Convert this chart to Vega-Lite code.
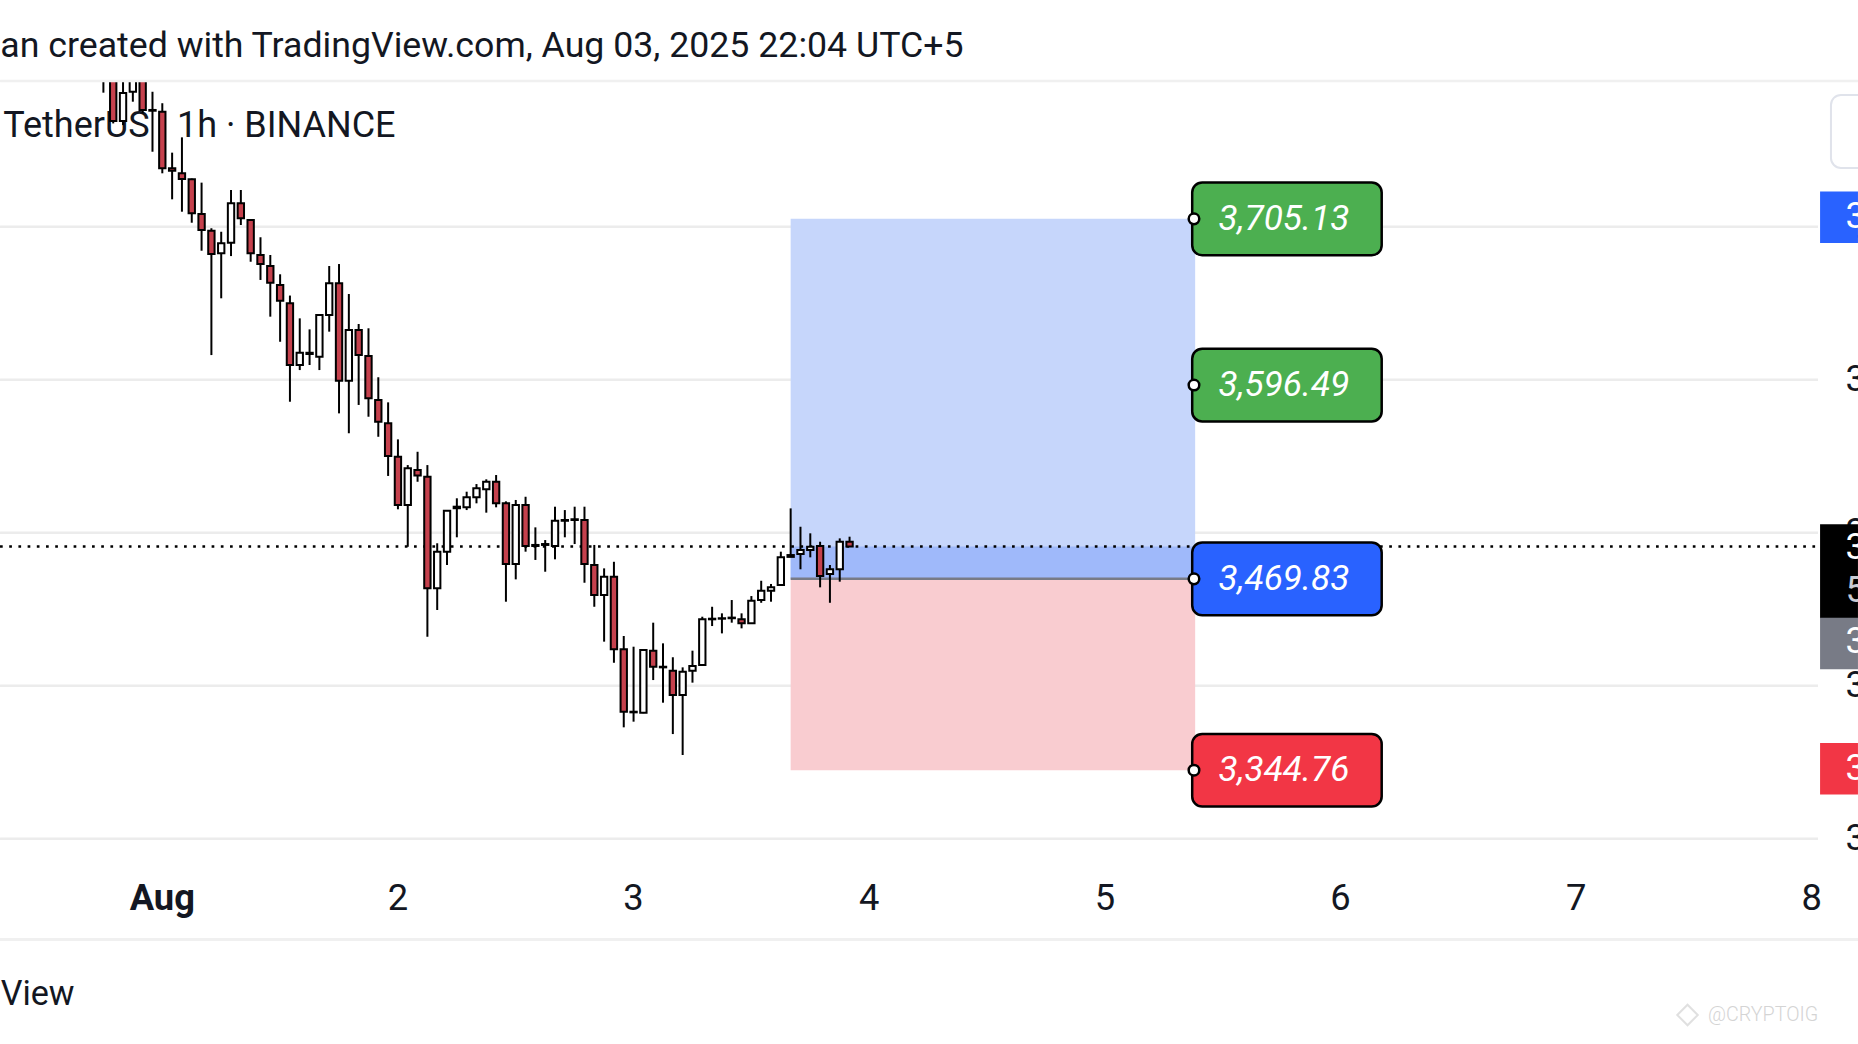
{
  "$schema": "https://vega.github.io/schema/vega-lite/v6.json",
  "width": 1858,
  "height": 1044,
  "padding": 0,
  "autosize": {"type": "none"},
  "background": "#ffffff",
  "config": {"view": {"stroke": null}, "font": "Roboto", "text": {"font": "Roboto"}},
  "datasets": {
    "candles": [
      {"h": -6, "open": 3799.0, "high": 3812.0, "low": 3787.6, "close": 3806.0},
      {"h": -5, "open": 3803.0, "high": 3808.0, "low": 3767.5, "close": 3769.1},
      {"h": -4, "open": 3769.1, "high": 3800.0, "low": 3766.4, "close": 3787.4},
      {"h": -3, "open": 3788.2, "high": 3801.0, "low": 3781.7, "close": 3797.0},
      {"h": -2, "open": 3799.0, "high": 3802.0, "low": 3774.1, "close": 3776.3},
      {"h": -1, "open": 3776.3, "high": 3788.2, "low": 3749.0, "close": 3775.8},
      {"h": 0, "open": 3775.2, "high": 3780.7, "low": 3734.9, "close": 3738.2},
      {"h": 1, "open": 3738.2, "high": 3748.4, "low": 3717.9, "close": 3736.6},
      {"h": 2, "open": 3734.9, "high": 3758.4, "low": 3709.8, "close": 3731.2},
      {"h": 3, "open": 3731.0, "high": 3731.5, "low": 3702.6, "close": 3708.8},
      {"h": 4, "open": 3708.3, "high": 3728.8, "low": 3684.3, "close": 3697.8},
      {"h": 5, "open": 3697.4, "high": 3699.0, "low": 3616.1, "close": 3682.2},
      {"h": 6, "open": 3682.6, "high": 3696.7, "low": 3653.2, "close": 3689.2},
      {"h": 7, "open": 3689.5, "high": 3724.0, "low": 3680.8, "close": 3715.3},
      {"h": 8, "open": 3715.3, "high": 3724.0, "low": 3701.1, "close": 3705.5},
      {"h": 9, "open": 3704.4, "high": 3704.9, "low": 3677.1, "close": 3682.6},
      {"h": 10, "open": 3681.5, "high": 3693.1, "low": 3665.2, "close": 3675.6},
      {"h": 11, "open": 3674.3, "high": 3681.5, "low": 3641.2, "close": 3663.4},
      {"h": 12, "open": 3661.9, "high": 3668.9, "low": 3624.8, "close": 3651.6},
      {"h": 13, "open": 3649.9, "high": 3655.0, "low": 3585.6, "close": 3609.6},
      {"h": 14, "open": 3609.6, "high": 3640.1, "low": 3606.3, "close": 3617.6},
      {"h": 15, "open": 3617.6, "high": 3632.9, "low": 3609.6, "close": 3616.8},
      {"h": 16, "open": 3615.0, "high": 3642.8, "low": 3606.3, "close": 3642.3},
      {"h": 17, "open": 3642.3, "high": 3674.3, "low": 3631.4, "close": 3663.0},
      {"h": 18, "open": 3663.0, "high": 3675.6, "low": 3578.0, "close": 3599.3},
      {"h": 19, "open": 3599.3, "high": 3656.0, "low": 3565.0, "close": 3632.5},
      {"h": 20, "open": 3632.5, "high": 3636.4, "low": 3583.5, "close": 3616.1},
      {"h": 21, "open": 3615.5, "high": 3633.6, "low": 3575.8, "close": 3587.8},
      {"h": 22, "open": 3586.7, "high": 3601.6, "low": 3562.7, "close": 3572.5},
      {"h": 23, "open": 3571.5, "high": 3585.2, "low": 3537.1, "close": 3550.1},
      {"h": 24, "open": 3549.7, "high": 3561.0, "low": 3515.3, "close": 3518.1},
      {"h": 25, "open": 3518.1, "high": 3544.2, "low": 3490.8, "close": 3542.1},
      {"h": 26, "open": 3541.0, "high": 3552.9, "low": 3533.3, "close": 3537.4},
      {"h": 27, "open": 3536.6, "high": 3544.2, "low": 3432.0, "close": 3463.7},
      {"h": 28, "open": 3463.7, "high": 3493.1, "low": 3449.5, "close": 3487.6},
      {"h": 29, "open": 3487.6, "high": 3514.8, "low": 3478.9, "close": 3514.4},
      {"h": 30, "open": 3516.0, "high": 3522.5, "low": 3497.0, "close": 3517.0},
      {"h": 31, "open": 3516.6, "high": 3526.8, "low": 3514.8, "close": 3523.1},
      {"h": 32, "open": 3523.1, "high": 3531.8, "low": 3519.2, "close": 3529.0},
      {"h": 33, "open": 3528.4, "high": 3534.9, "low": 3513.1, "close": 3533.3},
      {"h": 34, "open": 3533.3, "high": 3537.7, "low": 3516.6, "close": 3519.2},
      {"h": 35, "open": 3519.2, "high": 3520.5, "low": 3454.9, "close": 3479.5},
      {"h": 36, "open": 3479.5, "high": 3521.4, "low": 3469.5, "close": 3518.1},
      {"h": 37, "open": 3518.1, "high": 3523.5, "low": 3487.6, "close": 3491.3},
      {"h": 38, "open": 3491.3, "high": 3503.5, "low": 3482.2, "close": 3492.0},
      {"h": 39, "open": 3492.0, "high": 3495.2, "low": 3474.5, "close": 3492.6},
      {"h": 40, "open": 3491.3, "high": 3517.0, "low": 3482.6, "close": 3507.8},
      {"h": 41, "open": 3507.8, "high": 3514.8, "low": 3497.0, "close": 3508.3},
      {"h": 42, "open": 3508.3, "high": 3517.0, "low": 3492.6, "close": 3508.8},
      {"h": 43, "open": 3508.3, "high": 3517.0, "low": 3467.3, "close": 3479.5},
      {"h": 44, "open": 3478.9, "high": 3492.0, "low": 3451.6, "close": 3459.3},
      {"h": 45, "open": 3459.3, "high": 3476.7, "low": 3428.8, "close": 3471.2},
      {"h": 46, "open": 3471.2, "high": 3481.0, "low": 3415.0, "close": 3423.8},
      {"h": 47, "open": 3423.8, "high": 3432.5, "low": 3372.8, "close": 3383.0},
      {"h": 48, "open": 3383.0, "high": 3425.5, "low": 3376.5, "close": 3382.6},
      {"h": 49, "open": 3382.4, "high": 3423.6, "low": 3382.0, "close": 3423.3},
      {"h": 50, "open": 3422.9, "high": 3441.2, "low": 3403.7, "close": 3412.4},
      {"h": 51, "open": 3412.4, "high": 3427.7, "low": 3388.9, "close": 3412.0},
      {"h": 52, "open": 3409.8, "high": 3418.6, "low": 3368.4, "close": 3393.9},
      {"h": 53, "open": 3393.9, "high": 3412.0, "low": 3354.7, "close": 3409.2},
      {"h": 54, "open": 3409.8, "high": 3422.9, "low": 3402.0, "close": 3412.9},
      {"h": 55, "open": 3413.5, "high": 3445.1, "low": 3413.5, "close": 3443.4},
      {"h": 56, "open": 3443.4, "high": 3451.6, "low": 3439.0, "close": 3443.8},
      {"h": 57, "open": 3443.8, "high": 3447.3, "low": 3434.2, "close": 3444.1},
      {"h": 58, "open": 3444.1, "high": 3456.0, "low": 3441.2, "close": 3444.5},
      {"h": 59, "open": 3443.4, "high": 3447.3, "low": 3437.5, "close": 3440.8},
      {"h": 60, "open": 3440.8, "high": 3458.6, "low": 3440.8, "close": 3455.6},
      {"h": 61, "open": 3456.0, "high": 3468.6, "low": 3454.2, "close": 3462.1},
      {"h": 62, "open": 3462.1, "high": 3466.5, "low": 3454.9, "close": 3464.3},
      {"h": 63, "open": 3465.8, "high": 3487.6, "low": 3465.8, "close": 3483.9},
      {"h": 64, "open": 3484.2, "high": 3515.9, "low": 3484.2, "close": 3485.4},
      {"h": 65, "open": 3486.1, "high": 3503.9, "low": 3476.1, "close": 3488.7},
      {"h": 66, "open": 3488.7, "high": 3499.6, "low": 3483.9, "close": 3490.8},
      {"h": 67, "open": 3491.3, "high": 3494.1, "low": 3464.3, "close": 3471.7},
      {"h": 68, "open": 3473.0, "high": 3478.9, "low": 3454.2, "close": 3476.1},
      {"h": 69, "open": 3476.1, "high": 3496.3, "low": 3468.0, "close": 3494.1},
      {"h": 70, "open": 3494.1, "high": 3497.4, "low": 3490.8, "close": 3491.0}
    ],
    "grid": [{"price": 3300}, {"price": 3400}, {"price": 3500}, {"price": 3600}, {"price": 3700}],
    "days": [
      {"h": 0, "label": "Aug"}, {"h": 24, "label": "2"}, {"h": 48, "label": "3"}, {"h": 72, "label": "4"},
      {"h": 96, "label": "5"}, {"h": 120, "label": "6"}, {"h": 144, "label": "7"}, {"h": 168, "label": "8"}
    ],
    "zones": [
      {"zone": "profit", "low": 3469.83, "high": 3705.13},
      {"zone": "loss", "low": 3344.76, "high": 3469.83},
      {"zone": "open", "low": 3469.83, "high": 3491.0}
    ],
    "levels": [
      {"price": 3705.13, "label": "3,705.13", "kind": "target"},
      {"price": 3596.49, "label": "3,596.49", "kind": "target"},
      {"price": 3469.83, "label": "3,469.83", "kind": "entry"},
      {"price": 3344.76, "label": "3,344.76", "kind": "stop"}
    ],
    "tags": [
      {"price": 3705.13, "label": "3,705.13", "kind": "target"},
      {"price": 3344.76, "label": "3,344.76", "kind": "stop"}
    ],
    "last": [{"price": 3491.0, "label": "3,491.00", "countdown": "55:56"}],
    "entry": [{"price": 3469.83, "label": "3,469.83"}]
  },
  "layer": [
    {
      "data": {"name": "grid"},
      "mark": {"type": "rule", "color": "#ececec", "strokeWidth": 2.4},
      "encoding": {
        "x": {"datum": -16.53, "type": "quantitative", "scale": {"domain": [-16.022, 172.204], "nice": false, "zero": false}, "axis": null},
        "x2": {"datum": 168.64},
        "y": {"field": "price", "type": "quantitative", "scale": {"domain": [3169.1, 3844.9], "nice": false, "zero": false}, "axis": null}
      }
    },
    {
      "data": {"name": "grid"},
      "mark": {"type": "text", "align": "left", "baseline": "middle", "fontSize": 36.3, "color": "#131722", "font": "Roboto"},
      "encoding": {
        "x": {"datum": 171.44, "type": "quantitative", "scale": {"domain": [-16.022, 172.204], "nice": false, "zero": false}, "axis": null},
        "y": {"field": "price", "type": "quantitative", "scale": {"domain": [3169.1, 3844.9], "nice": false, "zero": false}, "axis": null},
        "text": {"field": "price", "type": "quantitative", "format": ",.2f"}
      }
    },
    {
      "data": {"name": "days"},
      "transform": [{"filter": "datum.h === 0"}],
      "mark": {"type": "text", "align": "center", "baseline": "middle", "fontSize": 36.3, "fontWeight": "bold", "color": "#131722", "font": "Roboto"},
      "encoding": {
        "x": {"field": "h", "type": "quantitative", "scale": {"domain": [-16.022, 172.204], "nice": false, "zero": false}, "axis": null},
        "y": {"datum": 3260.6, "type": "quantitative", "scale": {"domain": [3169.1, 3844.9], "nice": false, "zero": false}, "axis": null},
        "text": {"field": "label"}
      }
    },
    {
      "data": {"name": "days"},
      "transform": [{"filter": "datum.h !== 0"}],
      "mark": {"type": "text", "align": "center", "baseline": "middle", "fontSize": 36.3, "color": "#131722", "font": "Roboto"},
      "encoding": {
        "x": {"field": "h", "type": "quantitative", "scale": {"domain": [-16.022, 172.204], "nice": false, "zero": false}, "axis": null},
        "y": {"datum": 3260.6, "type": "quantitative", "scale": {"domain": [3169.1, 3844.9], "nice": false, "zero": false}, "axis": null},
        "text": {"field": "label"}
      }
    },
    {
      "data": {"name": "zones"},
      "mark": {"type": "rect"},
      "encoding": {
        "x": {"datum": 64, "type": "quantitative", "scale": {"domain": [-16.022, 172.204], "nice": false, "zero": false}, "axis": null},
        "x2": {"datum": 105.2},
        "y": {"field": "low", "type": "quantitative", "scale": {"domain": [3169.1, 3844.9], "nice": false, "zero": false}, "axis": null},
        "y2": {"field": "high"},
        "color": {"condition": [{"test": "datum.zone === 'profit'", "value": "#c6d6fb"}, {"test": "datum.zone === 'loss'", "value": "#f9ccd0"}], "value": "#9fb9fa"}
      }
    },
    {
      "data": {"name": "entry"},
      "mark": {"type": "rule", "color": "#787b86", "strokeWidth": 2.5},
      "encoding": {
        "x": {"datum": 64, "type": "quantitative", "scale": {"domain": [-16.022, 172.204], "nice": false, "zero": false}, "axis": null},
        "x2": {"datum": 105.2},
        "y": {"field": "price", "type": "quantitative", "scale": {"domain": [3169.1, 3844.9], "nice": false, "zero": false}, "axis": null}
      }
    },
    {
      "data": {"values": [{"text": "TetherUS · 1h · BINANCE"}]},
      "mark": {"type": "text", "align": "left", "baseline": "middle", "fontSize": 36, "color": "#131722", "font": "Roboto"},
      "encoding": {
        "x": {"datum": -16.2, "type": "quantitative", "scale": {"domain": [-16.022, 172.204], "nice": false, "zero": false}, "axis": null},
        "y": {"datum": 3765.6, "type": "quantitative", "scale": {"domain": [3169.1, 3844.9], "nice": false, "zero": false}, "axis": null},
        "text": {"field": "text"}
      }
    },
    {
      "data": {"name": "last"},
      "mark": {"type": "rule", "color": "#000000", "strokeWidth": 2.5, "strokeDash": [2.7, 6.5]},
      "encoding": {
        "x": {"datum": -16.53, "type": "quantitative", "scale": {"domain": [-16.022, 172.204], "nice": false, "zero": false}, "axis": null},
        "x2": {"datum": 168.64},
        "y": {"field": "price", "type": "quantitative", "scale": {"domain": [3169.1, 3844.9], "nice": false, "zero": false}, "axis": null}
      }
    },
    {
      "data": {"name": "candles"},
      "mark": {"type": "rule", "color": "#000000", "strokeWidth": 2},
      "encoding": {
        "x": {"field": "h", "type": "quantitative", "scale": {"domain": [-16.022, 172.204], "nice": false, "zero": false}, "axis": null},
        "y": {"field": "low", "type": "quantitative", "scale": {"domain": [3169.1, 3844.9], "nice": false, "zero": false}, "axis": null},
        "y2": {"field": "high"}
      }
    },
    {
      "data": {"name": "candles"},
      "mark": {"type": "bar", "width": 6.35, "stroke": "#000000", "strokeWidth": 2},
      "encoding": {
        "x": {"field": "h", "type": "quantitative", "scale": {"domain": [-16.022, 172.204], "nice": false, "zero": false}, "axis": null},
        "y": {"field": "open", "type": "quantitative", "scale": {"domain": [3169.1, 3844.9], "nice": false, "zero": false}, "axis": null},
        "y2": {"field": "close"},
        "fill": {"condition": {"test": "datum.close < datum.open", "value": "#c5414d"}, "value": "#ffffff"}
      }
    },
    {
      "data": {"values": [{"area": "header"}]},
      "mark": {"type": "rect", "color": "#ffffff"},
      "encoding": {
        "x": {"datum": -16.53, "type": "quantitative", "scale": {"domain": [-16.022, 172.204], "nice": false, "zero": false}, "axis": null},
        "x2": {"datum": 172.71},
        "y": {"datum": 3795.2, "type": "quantitative", "scale": {"domain": [3169.1, 3844.9], "nice": false, "zero": false}, "axis": null},
        "y2": {"datum": 3848.2}
      }
    },
    {
      "data": {"values": [{"line": "header"}]},
      "mark": {"type": "rule", "color": "#f0f0f0", "strokeWidth": 2.5},
      "encoding": {
        "x": {"datum": -16.53, "type": "quantitative", "scale": {"domain": [-16.022, 172.204], "nice": false, "zero": false}, "axis": null},
        "x2": {"datum": 172.71},
        "y": {"datum": 3795.2, "type": "quantitative", "scale": {"domain": [3169.1, 3844.9], "nice": false, "zero": false}, "axis": null}
      }
    },
    {
      "data": {"values": [{"line": "footer"}]},
      "mark": {"type": "rule", "color": "#f0f0f0", "strokeWidth": 3},
      "encoding": {
        "x": {"datum": -16.53, "type": "quantitative", "scale": {"domain": [-16.022, 172.204], "nice": false, "zero": false}, "axis": null},
        "x2": {"datum": 172.71},
        "y": {"datum": 3234.2, "type": "quantitative", "scale": {"domain": [3169.1, 3844.9], "nice": false, "zero": false}, "axis": null}
      }
    },
    {
      "data": {"values": [{"text": "an created with TradingView.com, Aug 03, 2025 22:04 UTC+5"}]},
      "mark": {"type": "text", "align": "left", "baseline": "middle", "fontSize": 35.7, "color": "#131722", "font": "Roboto"},
      "encoding": {
        "x": {"datum": -16.5, "type": "quantitative", "scale": {"domain": [-16.022, 172.204], "nice": false, "zero": false}, "axis": null},
        "y": {"datum": 3818.1, "type": "quantitative", "scale": {"domain": [3169.1, 3844.9], "nice": false, "zero": false}, "axis": null},
        "text": {"field": "text"}
      }
    },
    {
      "data": {"values": [{"text": "TradingView"}]},
      "mark": {"type": "text", "align": "right", "baseline": "middle", "fontSize": 34.2, "color": "#131722", "font": "Roboto"},
      "encoding": {
        "x": {"datum": -8.94, "type": "quantitative", "scale": {"domain": [-16.022, 172.204], "nice": false, "zero": false}, "axis": null},
        "y": {"datum": 3197.8, "type": "quantitative", "scale": {"domain": [3169.1, 3844.9], "nice": false, "zero": false}, "axis": null},
        "text": {"field": "text"}
      }
    },
    {
      "data": {"values": [{"text": "@CRYPTOIG"}]},
      "mark": {"type": "text", "align": "left", "baseline": "middle", "fontSize": 19.7, "fontWeight": 300, "color": "#d4d4d4", "font": "Roboto"},
      "encoding": {
        "x": {"datum": 157.43, "type": "quantitative", "scale": {"domain": [-16.022, 172.204], "nice": false, "zero": false}, "axis": null},
        "y": {"datum": 3184.8, "type": "quantitative", "scale": {"domain": [3169.1, 3844.9], "nice": false, "zero": false}, "axis": null},
        "text": {"field": "text"}
      }
    },
    {
      "data": {"values": [{"logo": "binance"}]},
      "mark": {"type": "point", "shape": "diamond", "size": 420, "filled": false, "stroke": "#d4d4d4", "strokeWidth": 2},
      "encoding": {
        "x": {"datum": 155.35, "type": "quantitative", "scale": {"domain": [-16.022, 172.204], "nice": false, "zero": false}, "axis": null},
        "y": {"datum": 3184.8, "type": "quantitative", "scale": {"domain": [3169.1, 3844.9], "nice": false, "zero": false}, "axis": null}
      }
    },
    {
      "data": {"name": "levels"},
      "mark": {"type": "bar", "height": 72.7, "cornerRadius": 10, "stroke": "#000000", "strokeWidth": 2.5},
      "encoding": {
        "x": {"datum": 104.9, "type": "quantitative", "scale": {"domain": [-16.022, 172.204], "nice": false, "zero": false}, "axis": null},
        "x2": {"datum": 124.2},
        "y": {"field": "price", "type": "quantitative", "scale": {"domain": [3169.1, 3844.9], "nice": false, "zero": false}, "axis": null},
        "fill": {"condition": [{"test": "datum.kind === 'target'", "value": "#4caf50"}, {"test": "datum.kind === 'entry'", "value": "#2962ff"}], "value": "#f23645"}
      }
    },
    {
      "data": {"name": "levels"},
      "mark": {"type": "circle", "size": 112, "fill": "#ffffff", "stroke": "#000000", "strokeWidth": 2.5, "opacity": 1},
      "encoding": {
        "x": {"datum": 105.08, "type": "quantitative", "scale": {"domain": [-16.022, 172.204], "nice": false, "zero": false}, "axis": null},
        "y": {"field": "price", "type": "quantitative", "scale": {"domain": [3169.1, 3844.9], "nice": false, "zero": false}, "axis": null}
      }
    },
    {
      "data": {"name": "levels"},
      "mark": {"type": "text", "align": "center", "baseline": "middle", "fontSize": 35.2, "fontStyle": "italic", "color": "#ffffff", "font": "Roboto"},
      "encoding": {
        "x": {"datum": 114.25, "type": "quantitative", "scale": {"domain": [-16.022, 172.204], "nice": false, "zero": false}, "axis": null},
        "y": {"field": "price", "type": "quantitative", "scale": {"domain": [3169.1, 3844.9], "nice": false, "zero": false}, "axis": null},
        "text": {"field": "label"}
      }
    },
    {
      "data": {"name": "tags"},
      "mark": {"type": "bar", "height": 51.5, "yOffset": -1.5},
      "encoding": {
        "x": {"datum": 168.85, "type": "quantitative", "scale": {"domain": [-16.022, 172.204], "nice": false, "zero": false}, "axis": null},
        "x2": {"datum": 172.71},
        "y": {"field": "price", "type": "quantitative", "scale": {"domain": [3169.1, 3844.9], "nice": false, "zero": false}, "axis": null},
        "fill": {"condition": {"test": "datum.kind === 'target'", "value": "#2962ff"}, "value": "#f23645"}
      }
    },
    {
      "data": {"name": "tags"},
      "mark": {"type": "text", "align": "left", "baseline": "middle", "fontSize": 36.3, "color": "#ffffff", "font": "Roboto", "yOffset": -1.5},
      "encoding": {
        "x": {"datum": 171.44, "type": "quantitative", "scale": {"domain": [-16.022, 172.204], "nice": false, "zero": false}, "axis": null},
        "y": {"field": "price", "type": "quantitative", "scale": {"domain": [3169.1, 3844.9], "nice": false, "zero": false}, "axis": null},
        "text": {"field": "label"}
      }
    },
    {
      "data": {"name": "last"},
      "mark": {"type": "bar", "height": 94, "yOffset": 24.7, "color": "#000000"},
      "encoding": {
        "x": {"datum": 168.85, "type": "quantitative", "scale": {"domain": [-16.022, 172.204], "nice": false, "zero": false}, "axis": null},
        "x2": {"datum": 172.71},
        "y": {"field": "price", "type": "quantitative", "scale": {"domain": [3169.1, 3844.9], "nice": false, "zero": false}, "axis": null}
      }
    },
    {
      "data": {"name": "last"},
      "mark": {"type": "text", "align": "left", "baseline": "middle", "fontSize": 36.3, "color": "#ffffff", "font": "Roboto", "yOffset": 2},
      "encoding": {
        "x": {"datum": 171.44, "type": "quantitative", "scale": {"domain": [-16.022, 172.204], "nice": false, "zero": false}, "axis": null},
        "y": {"field": "price", "type": "quantitative", "scale": {"domain": [3169.1, 3844.9], "nice": false, "zero": false}, "axis": null},
        "text": {"field": "label"}
      }
    },
    {
      "data": {"name": "last"},
      "mark": {"type": "text", "align": "left", "baseline": "middle", "fontSize": 36.3, "color": "#c9cbd3", "font": "Roboto", "yOffset": 44.4},
      "encoding": {
        "x": {"datum": 171.44, "type": "quantitative", "scale": {"domain": [-16.022, 172.204], "nice": false, "zero": false}, "axis": null},
        "y": {"field": "price", "type": "quantitative", "scale": {"domain": [3169.1, 3844.9], "nice": false, "zero": false}, "axis": null},
        "text": {"field": "countdown"}
      }
    },
    {
      "data": {"name": "entry"},
      "mark": {"type": "bar", "height": 51.5, "yOffset": 64.6, "color": "#787b86"},
      "encoding": {
        "x": {"datum": 168.85, "type": "quantitative", "scale": {"domain": [-16.022, 172.204], "nice": false, "zero": false}, "axis": null},
        "x2": {"datum": 172.71},
        "y": {"field": "price", "type": "quantitative", "scale": {"domain": [3169.1, 3844.9], "nice": false, "zero": false}, "axis": null}
      }
    },
    {
      "data": {"name": "entry"},
      "mark": {"type": "text", "align": "left", "baseline": "middle", "fontSize": 36.3, "color": "#ffffff", "font": "Roboto", "yOffset": 63.6},
      "encoding": {
        "x": {"datum": 171.44, "type": "quantitative", "scale": {"domain": [-16.022, 172.204], "nice": false, "zero": false}, "axis": null},
        "y": {"field": "price", "type": "quantitative", "scale": {"domain": [3169.1, 3844.9], "nice": false, "zero": false}, "axis": null},
        "text": {"field": "label"}
      }
    },
    {
      "data": {"values": [{"control": "button"}]},
      "mark": {"type": "rect", "cornerRadius": 10, "fill": "#ffffff", "stroke": "#e0e3eb", "strokeWidth": 2},
      "encoding": {
        "x": {"datum": 169.96, "type": "quantitative", "scale": {"domain": [-16.022, 172.204], "nice": false, "zero": false}, "axis": null},
        "x2": {"datum": 176},
        "y": {"datum": 3786.1, "type": "quantitative", "scale": {"domain": [3169.1, 3844.9], "nice": false, "zero": false}, "axis": null},
        "y2": {"datum": 3738.4}
      }
    }
  ]
}
